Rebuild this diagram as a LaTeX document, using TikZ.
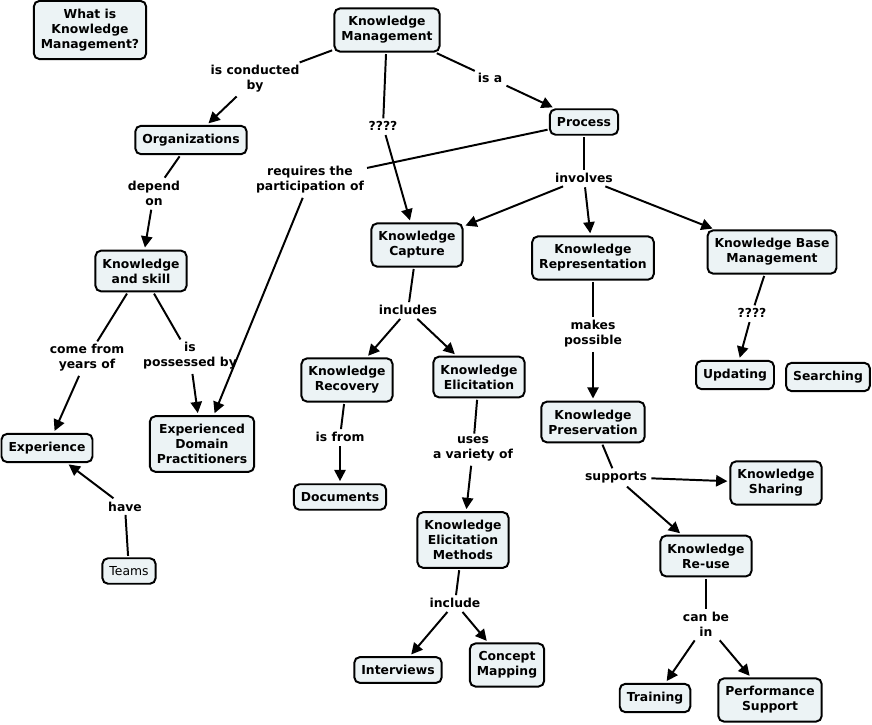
\documentclass[tikz,border=0pt]{standalone}
\usepackage{fontspec}
\setmainfont{DejaVu Sans}
\usetikzlibrary{arrows.meta,positioning}
\definecolor{cmapfill}{RGB}{236,243,245}

\begin{document}
\begin{tikzpicture}[
  node distance=1.5cm and 2.0cm, on grid,
  concept/.style={draw,rectangle,rounded corners=4pt,line width=1.4pt,fill=cmapfill,
                  align=center,inner xsep=5pt,inner ysep=5.8pt,
                  font=\fontsize{8.8}{10.6}\selectfont\bfseries},
  linkword/.style={align=center,inner sep=2pt,font=\fontsize{8.8}{10.6}\selectfont\bfseries},
  line/.style={line width=1.4pt,shorten <=1pt},
  arr/.style={line,-{Triangle[length=8pt,width=8pt]},shorten >=1.5pt}
]
\useasboundingbox (0,0) rectangle (21.8,-18.1);

% Top
\node[concept] (km) at (9.675,-0.75) {Knowledge\\Management};
\node[concept, left=7.425cm of km] (whatis) {What is\\Knowledge\\Management?};

% Organizations branch
\node[linkword, below left=1.225cm and 3.3cm of km] (lconducted) {is conducted\\by};
\node[concept, below left=1.525cm and 1.6cm of lconducted] (orgs) {Organizations};
\node[linkword, below left=1.325cm and 0.925cm of orgs] (ldepend) {depend\\on};
\node[concept, below left=1.95cm and 0.325cm of ldepend] (skill) {Knowledge\\and skill};
\node[linkword, below left=2.175cm and 1.35cm of skill] (lcome) {come from\\years of};
\node[linkword, below right=2.125cm and 1.225cm of skill] (lpossessed) {is\\possessed by};
\node[concept, below left=2.25cm and 1.0cm of lcome] (experience) {Experience};
\node[concept, below right=2.2cm and 0.3cm of lpossessed] (edp) {Experienced\\Domain\\Practitioners};
\node[linkword, below right=1.475cm and 1.95cm of experience] (lhave) {have};
\node[concept, below=1.6cm of lhave, xshift=0.1cm,
      font=\fontsize{8.8}{10.6}\selectfont] (teams) {Teams};

% Process
\node[linkword, below right=1.2cm and 2.575cm of km] (lisa) {is a};
\node[concept, below right=1.1cm and 2.35cm of lisa] (process) {Process};
\node[linkword, below left=1.45cm and 6.85cm of process] (lrequires) {requires the\\participation of};
\node[linkword, below=1.4cm of process] (linvolves) {involves};

% Capture
\node[linkword, below=2.4cm of km, xshift=-0.1cm] (lq1) {????};
\node[concept, below right=2.975cm and 0.85cm of lq1] (capture) {Knowledge\\Capture};
\node[linkword, below=1.625cm of capture, xshift=-0.225cm] (lincludes) {includes};
\node[concept, below left=1.75cm and 1.525cm of lincludes] (recovery) {Knowledge\\Recovery};
\node[concept, below right=1.675cm and 1.775cm of lincludes] (elicit) {Knowledge\\Elicitation};
\node[linkword, below=1.425cm of recovery, xshift=-0.175cm] (lisfrom) {is from};
\node[concept, below=1.5cm of lisfrom] (documents) {Documents};
\node[linkword, below=1.8cm of elicit, xshift=-0.15cm] (luses) {uses\\a variety of};
\node[concept, below=2.275cm of luses, xshift=-0.25cm] (methods) {Knowledge\\Elicitation\\Methods};
\node[linkword, below=1.575cm of methods, xshift=-0.2cm] (linclude) {include};
\node[concept, below left=1.675cm and 1.425cm of linclude] (interviews) {Interviews};
\node[concept, below right=1.55cm and 1.3cm of linclude] (conceptmap) {Concept\\Mapping};

% Representation
\node[concept, below right=2.0cm and 0.225cm of linvolves] (repr) {Knowledge\\Representation};
\node[linkword, below=1.9cm of repr] (lmakes) {makes\\possible};
\node[concept, below=2.2cm of lmakes] (preserv) {Knowledge\\Preservation};
\node[linkword, below right=1.375cm and 0.575cm of preserv] (lsupports) {supports};
\node[concept, right=4.0cm of lsupports, yshift=-0.15cm] (sharing) {Knowledge\\Sharing};
\node[concept, below right=1.975cm and 2.25cm of lsupports] (reuse) {Knowledge\\Re-use};
\node[linkword, below=1.7cm of reuse] (lcanbe) {can be\\in};
\node[concept, below left=1.85cm and 1.275cm of lcanbe] (training) {Training};
\node[concept, below right=1.9cm and 1.6cm of lcanbe] (perf) {Performance\\Support};

% Base management
\node[concept, below right=1.85cm and 4.7cm of linvolves] (kbm) {Knowledge Base\\Management};
\node[linkword, below left=1.525cm and 0.5cm of kbm] (lq2) {????};
\node[concept, below left=1.55cm and 0.425cm of lq2] (updating) {Updating};
\node[concept, right=2.325cm of updating, yshift=-0.05cm] (searching) {Searching};

% Links
\draw[line] (km) -- (lconducted);
\draw[arr] (lconducted) -- (orgs);
\draw[line] (km) -- (lisa);
\draw[arr] (lisa) -- (process);
\draw[line] (km) -- (lq1);
\draw[arr] (lq1) -- (capture);
\draw[line] (process) -- (lrequires);
\draw[arr] (lrequires) -- (edp);
\draw[line] (process) -- (linvolves);
\draw[arr] (linvolves) -- (capture);
\draw[arr] (linvolves) -- (repr);
\draw[arr] (linvolves) -- (kbm);
\draw[line] (orgs) -- (ldepend);
\draw[arr] (ldepend) -- (skill);
\draw[line] (skill) -- (lcome);
\draw[arr] (lcome) -- (experience);
\draw[line] (skill) -- (lpossessed);
\draw[arr] (lpossessed) -- (edp);
\draw[line] (teams) -- (lhave);
\draw[arr] (lhave) -- (experience);
\draw[line] (capture) -- (lincludes);
\draw[arr] (lincludes) -- (recovery);
\draw[arr] (lincludes) -- (elicit);
\draw[line] (recovery) -- (lisfrom);
\draw[arr] (lisfrom) -- (documents);
\draw[line] (elicit) -- (luses);
\draw[arr] (luses) -- (methods);
\draw[line] (methods) -- (linclude);
\draw[arr] (linclude) -- (interviews);
\draw[arr] (linclude) -- (conceptmap);
\draw[line] (repr) -- (lmakes);
\draw[arr] (lmakes) -- (preserv);
\draw[line] (kbm) -- (lq2);
\draw[arr] (lq2) -- (updating);
\draw[line] (preserv) -- (lsupports);
\draw[arr] (lsupports) -- (sharing);
\draw[arr] (lsupports) -- (reuse);
\draw[line] (reuse) -- (lcanbe);
\draw[arr] (lcanbe) -- (training);
\draw[arr] (lcanbe) -- (perf);

\end{tikzpicture}
\end{document}
